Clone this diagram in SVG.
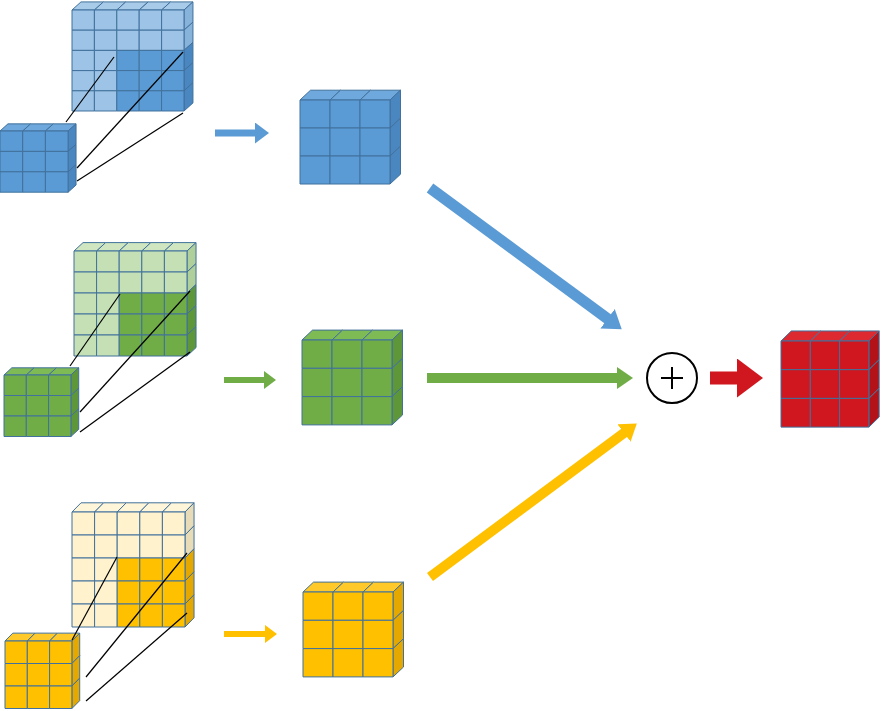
<svg xmlns="http://www.w3.org/2000/svg" xmlns:xlink="http://www.w3.org/1999/xlink" width="881" height="711" viewBox="0 0 881 711">
<style>
.c rect,.c polygon{stroke:var(--k);stroke-width:1;vector-effect:non-scaling-stroke}
.f{fill:var(--f)}.t{fill:var(--t)}.s{fill:var(--s)}.h{fill:var(--h)}.hs{fill:var(--hs)}
.blue{--f:#5b9bd5;--t:#6fa8dc;--s:#4a86c0;--k:#41719c}
.bluel{--f:#9dc3e6;--t:#a9cbea;--s:#87b2da;--h:#5b9bd5;--hs:#4a86c0;--k:#41719c}
.green{--f:#70ad47;--t:#7fbb55;--s:#5e963a;--k:#41719c}
.greenl{--f:#c5e0b4;--t:#cfe6c0;--s:#b0d09b;--h:#70ad47;--hs:#5e963a;--k:#41719c}
.yel{--f:#ffc000;--t:#ffc929;--s:#e5a800;--k:#41719c}
.yell{--f:#fff2cc;--t:#fff6d9;--s:#e8dcb8;--h:#ffc000;--hs:#e5a800;--k:#41719c}
.red{--f:#d0161e;--t:#dc2a30;--s:#b31218;--k:#41719c}
.ln{stroke:#000;stroke-width:1.2}
</style>
<defs>
<g id="g3" class="c">
<polygon class="t" points="0,0 .35,-.35 1.35,-.35 1,0"/><polygon class="t" points="1,0 1.35,-.35 2.35,-.35 2,0"/><polygon class="t" points="2,0 2.35,-.35 3.35,-.35 3,0"/>
<polygon class="s" points="3,0 3.35,-.35 3.35,.65 3,1"/><polygon class="s" points="3,1 3.35,.65 3.35,1.65 3,2"/><polygon class="s" points="3,2 3.35,1.65 3.35,2.65 3,3"/>
<rect class="f" x="0" y="0" width="1" height="1"/><rect class="f" x="1" y="0" width="1" height="1"/><rect class="f" x="2" y="0" width="1" height="1"/>
<rect class="f" x="0" y="1" width="1" height="1"/><rect class="f" x="1" y="1" width="1" height="1"/><rect class="f" x="2" y="1" width="1" height="1"/>
<rect class="f" x="0" y="2" width="1" height="1"/><rect class="f" x="1" y="2" width="1" height="1"/><rect class="f" x="2" y="2" width="1" height="1"/>
</g>
<g id="g5" class="c">
<polygon class="t" points="0,0 .4,-.4 1.4,-.4 1,0"/><polygon class="t" points="1,0 1.4,-.4 2.4,-.4 2,0"/><polygon class="t" points="2,0 2.4,-.4 3.4,-.4 3,0"/><polygon class="t" points="3,0 3.4,-.4 4.4,-.4 4,0"/><polygon class="t" points="4,0 4.4,-.4 5.4,-.4 5,0"/>
<polygon class="s" points="5,0 5.4,-.4 5.4,.6 5,1"/><polygon class="s" points="5,1 5.4,.6 5.4,1.6 5,2"/><polygon class="hs" points="5,2 5.4,1.6 5.4,2.6 5,3"/><polygon class="hs" points="5,3 5.4,2.6 5.4,3.6 5,4"/><polygon class="hs" points="5,4 5.4,3.6 5.4,4.6 5,5"/>
<rect class="f" x="0" y="0" width="1" height="1"/><rect class="f" x="1" y="0" width="1" height="1"/><rect class="f" x="2" y="0" width="1" height="1"/><rect class="f" x="3" y="0" width="1" height="1"/><rect class="f" x="4" y="0" width="1" height="1"/>
<rect class="f" x="0" y="1" width="1" height="1"/><rect class="f" x="1" y="1" width="1" height="1"/><rect class="f" x="2" y="1" width="1" height="1"/><rect class="f" x="3" y="1" width="1" height="1"/><rect class="f" x="4" y="1" width="1" height="1"/>
<rect class="f" x="0" y="2" width="1" height="1"/><rect class="f" x="1" y="2" width="1" height="1"/><rect class="h" x="2" y="2" width="1" height="1"/><rect class="h" x="3" y="2" width="1" height="1"/><rect class="h" x="4" y="2" width="1" height="1"/>
<rect class="f" x="0" y="3" width="1" height="1"/><rect class="f" x="1" y="3" width="1" height="1"/><rect class="h" x="2" y="3" width="1" height="1"/><rect class="h" x="3" y="3" width="1" height="1"/><rect class="h" x="4" y="3" width="1" height="1"/>
<rect class="f" x="0" y="4" width="1" height="1"/><rect class="f" x="1" y="4" width="1" height="1"/><rect class="h" x="2" y="4" width="1" height="1"/><rect class="h" x="3" y="4" width="1" height="1"/><rect class="h" x="4" y="4" width="1" height="1"/>
</g>
<marker id="mb" markerWidth="3" markerHeight="3" refX="1" refY="1.5" orient="auto" markerUnits="strokeWidth"><path d="M0,0 L2,1.5 L0,3z" fill="#5b9bd5"/></marker>
<marker id="mg" markerWidth="3" markerHeight="3" refX="1" refY="1.5" orient="auto" markerUnits="strokeWidth"><path d="M0,0 L2,1.5 L0,3z" fill="#70ad47"/></marker>
<marker id="my" markerWidth="3" markerHeight="3" refX="1" refY="1.5" orient="auto" markerUnits="strokeWidth"><path d="M0,0 L2,1.5 L0,3z" fill="#ffc000"/></marker>
<marker id="mr" markerWidth="3" markerHeight="3" refX="1" refY="1.5" orient="auto" markerUnits="strokeWidth"><path d="M0,0 L2,1.5 L0,3z" fill="#d0161e"/></marker>
<marker id="mB" markerWidth="2" markerHeight="2.2" refX="0.5" refY="1.1" orient="auto" markerUnits="strokeWidth"><path d="M0,0 L1.6,1.1 L0,2.2z" fill="#5b9bd5"/></marker>
<marker id="mG" markerWidth="2" markerHeight="2.2" refX="0.5" refY="1.1" orient="auto" markerUnits="strokeWidth"><path d="M0,0 L1.6,1.1 L0,2.2z" fill="#70ad47"/></marker>
<marker id="mY" markerWidth="2" markerHeight="2.2" refX="0.5" refY="1.1" orient="auto" markerUnits="strokeWidth"><path d="M0,0 L1.6,1.1 L0,2.2z" fill="#ffc000"/></marker>
</defs>

<g id="blue-input"><use href="#g5" class="bluel" transform="translate(72,10) scale(22.4,20.2)"/></g>
<g id="blue-kernel"><use href="#g3" class="blue" transform="translate(0,131) scale(22.7,20.4)"/></g>
<g id="blue-out"><use href="#g3" class="blue" transform="translate(300,100) scale(30,28)"/></g>
<g id="green-input"><use href="#g5" class="greenl" transform="translate(74,251) scale(22.6,21)"/></g>
<g id="green-kernel"><use href="#g3" class="green" transform="translate(4,375) scale(22.3,20.5)"/></g>
<g id="green-out"><use href="#g3" class="green" transform="translate(302,340) scale(30,28.3)"/></g>
<g id="yellow-input"><use href="#g5" class="yell" transform="translate(72,512) scale(22.6,23)"/></g>
<g id="yellow-kernel"><use href="#g3" class="yel" transform="translate(5,641) scale(22.3,22.5)"/></g>
<g id="yellow-out"><use href="#g3" class="yel" transform="translate(303,592) scale(30,28.3)"/></g>
<g id="red-out"><use href="#g3" class="red" transform="translate(781,341) scale(29.3,28.7)"/></g>
<g id="sum"><circle cx="672" cy="378" r="25" fill="#fff" stroke="#000" stroke-width="2"/><path d="M661,378 H683 M672,367 V389" stroke="#000" stroke-width="2"/></g>

<g id="connectors">
<line class="ln" x1="66" y1="122" x2="114" y2="57"/>
<line class="ln" x1="77" y1="168" x2="183" y2="52"/>
<line class="ln" x1="77" y1="181" x2="183" y2="113"/>
<line class="ln" x1="70" y1="366" x2="120" y2="294"/>
<line class="ln" x1="80" y1="412" x2="190" y2="291"/>
<line class="ln" x1="80" y1="432" x2="190" y2="352"/>
<line class="ln" x1="72" y1="640" x2="117" y2="557"/>
<line class="ln" x1="86" y1="677" x2="187" y2="553"/>
<line class="ln" x1="86" y1="701" x2="187" y2="613"/>
<line x1="215" y1="133" x2="262" y2="133" stroke="#5b9bd5" stroke-width="7" marker-end="url(#mb)"/>
<line x1="224" y1="380" x2="270" y2="380" stroke="#70ad47" stroke-width="6" marker-end="url(#mg)"/>
<line x1="224" y1="634" x2="271" y2="634" stroke="#ffc000" stroke-width="6" marker-end="url(#my)"/>
<line x1="430" y1="188" x2="612" y2="322" stroke="#5b9bd5" stroke-width="11" marker-end="url(#mB)"/>
<line x1="427" y1="378" x2="622" y2="378" stroke="#70ad47" stroke-width="10" marker-end="url(#mG)"/>
<line x1="430" y1="577" x2="628" y2="430" stroke="#ffc000" stroke-width="10" marker-end="url(#mY)"/>
<line x1="710" y1="378" x2="750" y2="378" stroke="#d0161e" stroke-width="13" marker-end="url(#mr)"/>
</g>
</svg>
